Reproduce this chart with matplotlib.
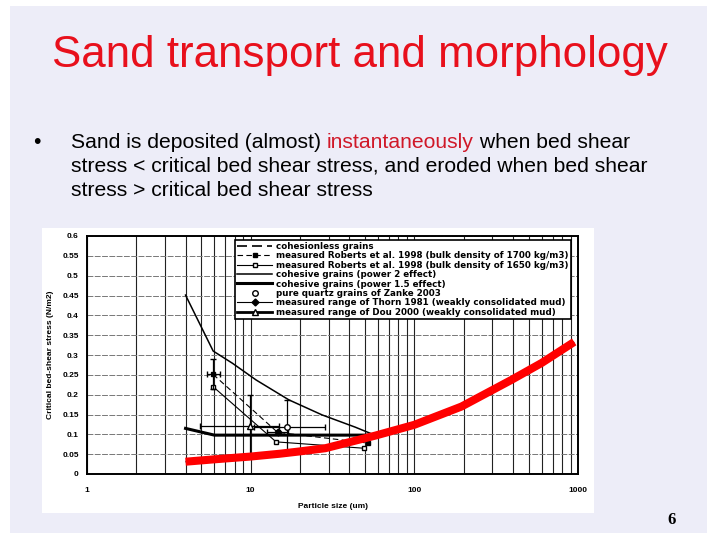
import matplotlib
matplotlib.use("Agg")
import matplotlib.pyplot as plt
from matplotlib.patches import Rectangle

plt.rcParams['font.family'] = ['Liberation Sans', 'DejaVu Sans']

# slide text
TITLE = "Sand transport and morphology"
BULLET_LINES = [
    [("Sand is deposited (almost) ", "black"), ("instantaneously", "#D01828"), (" when bed shear", "black")],
    [("stress < critical bed shear stress, and eroded when bed shear", "black")],
    [("stress > critical bed shear stress", "black")],
]
PAGE_NO = "6"

# chart data (particle size in um, critical bed-shear stress in N/m2)
cohesionless_x = [4, 6, 10, 15, 20, 28.6, 58, 100, 194, 391, 600, 948]
cohesionless_y = [0.031, 0.037, 0.044, 0.051, 0.057, 0.065, 0.097, 0.124, 0.17, 0.237, 0.28, 0.333]

power2_x = [4, 5.9, 7.75, 10.8, 17.1, 27.3, 43.6, 55]
power2_y = [0.451, 0.31, 0.279, 0.237, 0.187, 0.149, 0.118, 0.101]

power15_x = [4, 6, 55]
power15_y = [0.115, 0.098, 0.098]

roberts1700_x = [5.9, 14.6, 52]
roberts1700_y = [0.251, 0.105, 0.078]
roberts1650_x = [5.9, 14.3, 49]
roberts1650_y = [0.22, 0.081, 0.065]

zanke_x = [16.7]
zanke_y = [0.119]
zanke_ylo, zanke_yhi = [0.06], [0.187]
zanke_xlo, zanke_xhi = [10.5], [28.6]

thorn_x = [14.6]
thorn_y = [0.107]
thorn_xlo, thorn_xhi = [12.5], [17.0]

dou_x = [9.9]
dou_y = [0.121]
dou_ylo, dou_yhi = [0.05], [0.2]
dou_xlo, dou_xhi = [4.9], [14.9]

r1700_err_x, r1700_err_y = [5.9], [0.251]
r1700_xlo, r1700_xhi = [5.4], [6.5]
r1700_ylo, r1700_yhi = [0.215], [0.29]

x_ticks = [1, 10, 100, 1000]
y_ticks = [0, 0.05, 0.1, 0.15, 0.2, 0.25, 0.3, 0.35, 0.4, 0.45, 0.5, 0.55, 0.6]

W, H = 720, 540
fig = plt.figure(figsize=(7.2, 5.4), dpi=100)
fig.patch.set_facecolor("white")
fig.patches.append(Rectangle((10 / W, 7 / H), 697 / W, 527 / H, transform=fig.transFigure,
                             facecolor="#EDEDF8", edgecolor="none", zorder=-10))
fig.patches.append(Rectangle((42 / W, 27 / H), 552 / W, 285 / H, transform=fig.transFigure,
                             facecolor="white", edgecolor="none", zorder=-9))

fig.text(0.5, 1 - 56 / H, TITLE, ha="center", va="center", fontsize=31.6, color="#E8101C")

renderer = fig.canvas.get_renderer()


def text_width(s, size):
    # measure with a trailing marker char so spaces count
    t1 = fig.text(0, 0, s + "x", fontsize=size)
    t2 = fig.text(0, 0, "x", fontsize=size)
    w = t1.get_window_extent(renderer).width - t2.get_window_extent(renderer).width
    t1.remove()
    t2.remove()
    return w


BSIZE = 15.2
fig.text(33 / W, 1 - 148 / H, "•", fontsize=BSIZE, va="baseline", ha="left")
for i, parts in enumerate(BULLET_LINES):
    xpix = 71
    ybase = 1 - (148 + 24 * i) / H
    for s, c in parts:
        fig.text(xpix / W, ybase, s, fontsize=BSIZE, color=c, va="baseline", ha="left")
        xpix += text_width(s, BSIZE)

fig.text(672 / W, 1 - 520 / H, PAGE_NO, fontsize=12, fontweight="bold",
         family="Liberation Serif", ha="center", va="center")

# chart
ax = fig.add_axes([87 / W, 1 - 474 / H, 491 / W, 238 / H])
ax.set_zorder(2)
ax.set_xscale("log")
ax.set_xlim(1, 1000)
ax.set_ylim(0, 0.6)

ax.plot(cohesionless_x, cohesionless_y, color="black", ls=(0, (6, 3)), lw=1.2,
        label="cohesionless grains", zorder=2)
ax.plot(roberts1700_x, roberts1700_y, color="black", ls=(0, (5, 3)), lw=0.8, marker="s",
        ms=3.5, mfc="black", label="measured Roberts et al. 1998 (bulk density of 1700 kg/m3)", zorder=3)
ax.plot(roberts1650_x, roberts1650_y, color="black", ls="-", lw=0.8, marker="s",
        ms=3.5, mfc="white", label="measured Roberts et al. 1998 (bulk density of 1650 kg/m3)", zorder=3)
ax.plot(power2_x, power2_y, color="black", lw=1.1, label="cohesive grains (power 2 effect)", zorder=3)
ax.plot(power15_x, power15_y, color="black", lw=2.2, label="cohesive grains (power 1.5 effect)", zorder=3)
ax.plot(zanke_x, zanke_y, ls="none", marker="o", ms=4, mfc="white", mec="black",
        label="pure quartz grains of Zanke 2003", zorder=4)
ax.plot(thorn_x, thorn_y, color="black", lw=0.8, marker="D", ms=3.5, mfc="black",
        label="measured range of Thorn 1981 (weakly consolidated mud)", zorder=4)
ax.plot(dou_x, dou_y, color="black", lw=2, marker="^", ms=4, mfc="white",
        label="measured range of Dou 2000 (weakly consolidated mud)", zorder=4)

# error bars
ekw = dict(fmt="none", ecolor="black", elinewidth=0.9, capsize=2.5, zorder=3)
ax.errorbar(zanke_x, zanke_y,
            xerr=[[a - b for a, b in zip(zanke_x, zanke_xlo)], [b - a for a, b in zip(zanke_x, zanke_xhi)]],
            yerr=[[a - b for a, b in zip(zanke_y, zanke_ylo)], [b - a for a, b in zip(zanke_y, zanke_yhi)]], **ekw)
ax.errorbar(dou_x, dou_y,
            xerr=[[a - b for a, b in zip(dou_x, dou_xlo)], [b - a for a, b in zip(dou_x, dou_xhi)]],
            yerr=[[a - b for a, b in zip(dou_y, dou_ylo)], [b - a for a, b in zip(dou_y, dou_yhi)]], **ekw)
ax.errorbar(thorn_x, thorn_y,
            xerr=[[a - b for a, b in zip(thorn_x, thorn_xlo)], [b - a for a, b in zip(thorn_x, thorn_xhi)]], **ekw)
ax.errorbar(r1700_err_x, r1700_err_y,
            xerr=[[a - b for a, b in zip(r1700_err_x, r1700_xlo)], [b - a for a, b in zip(r1700_err_x, r1700_xhi)]],
            yerr=[[a - b for a, b in zip(r1700_err_y, r1700_ylo)], [b - a for a, b in zip(r1700_err_y, r1700_yhi)]],
            **ekw)

# highlighted curve drawn on top of the chart
ax.plot(cohesionless_x, cohesionless_y, color="#FF0000", lw=5.8, solid_capstyle="butt", zorder=6)

ax.set_xticks(x_ticks)
ax.set_xticklabels([str(v) for v in x_ticks])
ax.set_yticks(y_ticks)
ax.set_yticklabels([f"{v:g}" for v in y_ticks])
ax.tick_params(which="both", length=0, labelsize=6)
ax.tick_params(axis="x", pad=9)
ax.tick_params(axis="y", pad=6)
for lab in ax.get_xticklabels() + ax.get_yticklabels():
    lab.set_fontweight("bold")

ax.grid(which="both", axis="x", color="#222222", lw=0.8)
ax.grid(which="major", axis="y", color="#777777", lw=0.7, ls=(0, (6, 1.5)))
for sp in ax.spines.values():
    sp.set_linewidth(1.4)
    sp.set_color("black")

ax.set_xlabel("Particle size (um)", fontsize=6, fontweight="bold", labelpad=7)
ax.set_ylabel("Critical bed-shear stress (N/m2)", fontsize=6, fontweight="bold", labelpad=6)

leg = ax.legend(loc="upper right", bbox_to_anchor=(0.985, 0.985), borderaxespad=0,
                handlelength=4.0, handletextpad=0.4, labelspacing=0.05,
                borderpad=0.25, fancybox=False, framealpha=1, edgecolor="black",
                prop={"family": "DejaVu Sans", "weight": "bold", "size": 6.3})
leg.get_frame().set_linewidth(1.2)
leg.set_zorder(7)

fig.savefig("out.png", dpi=100)
